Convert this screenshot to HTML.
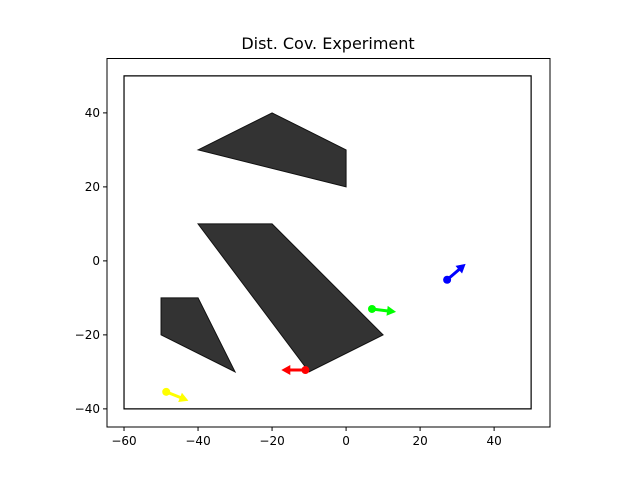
<!DOCTYPE html>
<html><head><meta charset="utf-8"><style>body{margin:0;background:#fff}svg{font-family:"DejaVu Sans","Liberation Sans",sans-serif}</style></head>
<body>
<svg id="chart" width="640" height="480" viewBox="0 0 640 480">
<text x="328" y="49" text-anchor="middle" font-size="16">Dist. Cov. Experiment</text>
<g id="plot"></g>
</svg>
<script>
const xTicks=[-60,-40,-20,0,20,40];
const yTicks=[-40,-20,0,20,40];
const boundary=[[-60,-40],[50,-40],[50,50],[-60,50]];
const obstacle1=[[-40,30],[-20,40],[0,30],[0,20]];
const obstacle2=[[-40,10],[-20,10],[10,-20],[-10,-30]];
const obstacle3=[[-50,-10],[-40,-10],[-30,-30],[-50,-20]];
const agentColors=["blue","#00ff00","red","yellow"];
const agentX=[27.3,7,-11,-48.6];
const agentY=[-5.1,-13,-29.5,-35.4];
const agentDX=[5,6.5,-6.5,6];
const agentDY=[4.3,-0.8,0,-2.4];

const ax={x0:107,x1:550,y0:58.5,y1:427,xmin:-64.6,xmax:55.1,ymin:-44.9,ymax:54.7};
const sx=v=>ax.x0+(v-ax.xmin)/(ax.xmax-ax.xmin)*(ax.x1-ax.x0);
const sy=v=>ax.y1-(v-ax.ymin)/(ax.ymax-ax.ymin)*(ax.y1-ax.y0);
const NS="http://www.w3.org/2000/svg";
const g=document.getElementById('plot');
function mk(t,a){const e=document.createElementNS(NS,t);for(const k in a)e.setAttribute(k,a[k]);g.appendChild(e);return e;}
const pts=p=>p.map(q=>sx(q[0])+","+sy(q[1])).join(" ");

let b=mk('polygon',{points:pts(boundary),fill:'none',stroke:'#000','stroke-width':1.2});


[obstacle1,obstacle2,obstacle3].forEach((o,i)=>{
 let e=mk('polygon',{points:pts(o),fill:'#333',stroke:'#111','stroke-width':1});
 
 
});
agentX.forEach((x,i)=>{
 const px=sx(x),py=sy(agentY[i]);
 const ex=sx(x+agentDX[i]),ey=sy(agentY[i]+agentDY[i]);
 const dx=ex-px,dy=ey-py,L=Math.hypot(dx,dy),ux=dx/L,uy=dy/L,nx=-uy,ny=ux;
 const hl=9,hw=5,sw=1.5;
 const bx=ex-ux*hl,by=ey-uy*hl;
 const poly=[[px+nx*sw,py+ny*sw],[bx+nx*sw,by+ny*sw],[bx+nx*hw,by+ny*hw],[ex,ey],[bx-nx*hw,by-ny*hw],[bx-nx*sw,by-ny*sw],[px-nx*sw,py-ny*sw]];
 let a=mk('polygon',{points:poly.map(p=>p.join(",")).join(" "),fill:agentColors[i]});
 
 
 let c=mk('circle',{cx:px,cy:py,r:4,fill:agentColors[i]});
 
 
});
let fr=mk('rect',{x:ax.x0,y:ax.y0,width:ax.x1-ax.x0,height:ax.y1-ax.y0,fill:'none',stroke:'#000','stroke-width':1});


xTicks.forEach(t=>{
 const x=sx(t);
 mk('line',{x1:x,x2:x,y1:ax.y1,y2:ax.y1+4,stroke:'#000'});
 let l=mk('text',{x:x,y:ax.y1+18,'text-anchor':'middle','font-size':12});
 l.textContent=t<0?'\u2212'+(-t):t;
 
 
});
yTicks.forEach(t=>{
 const y=sy(t);
 mk('line',{x1:ax.x0-4,x2:ax.x0,y1:y,y2:y,stroke:'#000'});
 let l=mk('text',{x:ax.x0-7,y:y+4,'text-anchor':'end','font-size':12});
 l.textContent=t<0?'\u2212'+(-t):t;
 
 
});
</script>
</body></html>
